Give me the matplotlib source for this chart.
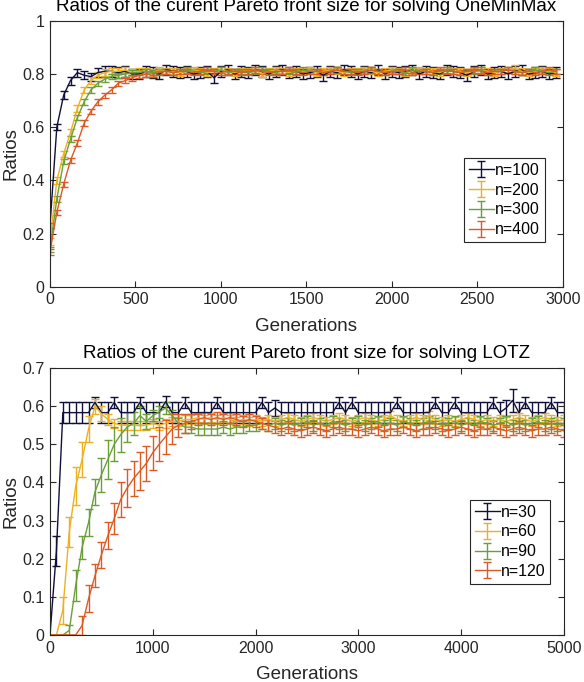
import numpy as np
import matplotlib
matplotlib.use("Agg")
import matplotlib.pyplot as plt

plt.rcParams['font.family'] = ['Liberation Sans', 'DejaVu Sans']
plt.rcParams['font.size'] = 11.5

colors = ['#10103a', '#edb120', '#6a9f3a', '#dc5a24']

# ---- OneMinMax (top) ----
gens_top = np.arange(0, 3000, 40)
labels_top = ['n=100', 'n=200', 'n=300', 'n=400']

omm_100 = [0.23, 0.60, 0.72, 0.775, 0.805, 0.795, 0.79, 0.805, 0.81, 0.81,
           0.805, 0.81, 0.80, 0.80, 0.81, 0.805, 0.80, 0.815, 0.81, 0.805,
           0.81, 0.80, 0.805, 0.81, 0.785, 0.81, 0.815, 0.80, 0.81, 0.805,
           0.815, 0.81, 0.80, 0.81, 0.815, 0.805, 0.81, 0.80, 0.805, 0.81,
           0.795, 0.81, 0.805, 0.815, 0.81, 0.80, 0.81, 0.805, 0.815, 0.80,
           0.81, 0.805, 0.81, 0.815, 0.80, 0.81, 0.805, 0.80, 0.815, 0.81,
           0.805, 0.795, 0.81, 0.815, 0.80, 0.805, 0.81, 0.80, 0.81, 0.815,
           0.80, 0.805, 0.81, 0.80, 0.805]
omm_200 = [0.17, 0.40, 0.50, 0.58, 0.67, 0.74, 0.775, 0.795, 0.805, 0.81,
           0.81, 0.815, 0.805, 0.81, 0.81, 0.805, 0.815, 0.81, 0.81, 0.805,
           0.81, 0.815, 0.81, 0.805, 0.81, 0.815, 0.81, 0.805, 0.81, 0.81,
           0.815, 0.80, 0.81, 0.815, 0.81, 0.805, 0.81, 0.81, 0.815, 0.805,
           0.81, 0.815, 0.81, 0.805, 0.81, 0.81, 0.815, 0.81, 0.805, 0.81,
           0.815, 0.81, 0.805, 0.81, 0.815, 0.81, 0.81, 0.805, 0.815, 0.81,
           0.81, 0.805, 0.81, 0.815, 0.81, 0.805, 0.81, 0.815, 0.82, 0.81,
           0.805, 0.81, 0.815, 0.81, 0.805]
omm_300 = [0.14, 0.33, 0.47, 0.555, 0.635, 0.695, 0.74, 0.765, 0.78, 0.79,
           0.795, 0.80, 0.805, 0.805, 0.81, 0.805, 0.81, 0.81, 0.805, 0.81,
           0.815, 0.81, 0.805, 0.81, 0.81, 0.815, 0.805, 0.81, 0.81, 0.805,
           0.81, 0.815, 0.81, 0.805, 0.81, 0.81, 0.805, 0.815, 0.81, 0.81,
           0.805, 0.81, 0.815, 0.81, 0.805, 0.81, 0.81, 0.815, 0.81, 0.805,
           0.81, 0.81, 0.805, 0.815, 0.81, 0.81, 0.805, 0.81, 0.815, 0.81,
           0.805, 0.81, 0.81, 0.815, 0.805, 0.81, 0.81, 0.815, 0.81, 0.805,
           0.81, 0.815, 0.81, 0.805, 0.81]
omm_400 = [0.13, 0.28, 0.385, 0.475, 0.54, 0.615, 0.66, 0.695, 0.72, 0.74,
           0.765, 0.775, 0.785, 0.795, 0.80, 0.80, 0.805, 0.81, 0.805, 0.81,
           0.81, 0.805, 0.81, 0.815, 0.81, 0.805, 0.81, 0.81, 0.805, 0.81,
           0.815, 0.81, 0.805, 0.81, 0.81, 0.815, 0.81, 0.805, 0.81, 0.81,
           0.805, 0.81, 0.815, 0.81, 0.81, 0.805, 0.81, 0.815, 0.81, 0.805,
           0.81, 0.81, 0.815, 0.805, 0.81, 0.81, 0.805, 0.815, 0.81, 0.81,
           0.805, 0.81, 0.815, 0.81, 0.805, 0.81, 0.81, 0.815, 0.81, 0.805,
           0.81, 0.805, 0.81, 0.815, 0.81]

omm_100_err = [0.01, 0.01, 0.015, 0.015, 0.015, 0.015, 0.015, 0.018, 0.02, 0.02,
               0.02, 0.02, 0.02, 0.02, 0.02, 0.02, 0.02, 0.02, 0.02, 0.02,
               0.02, 0.02, 0.02, 0.02, 0.02, 0.02, 0.02, 0.02, 0.02, 0.02,
               0.02, 0.02, 0.02, 0.02, 0.02, 0.02, 0.02, 0.02, 0.02, 0.02,
               0.02, 0.02, 0.02, 0.02, 0.02, 0.02, 0.02, 0.02, 0.02, 0.02,
               0.02, 0.02, 0.02, 0.02, 0.02, 0.02, 0.02, 0.02, 0.02, 0.02,
               0.02, 0.02, 0.02, 0.02, 0.02, 0.02, 0.02, 0.02, 0.02, 0.02,
               0.02, 0.02, 0.02, 0.02, 0.02]
omm_200_err = [0.012, 0.012, 0.012, 0.012, 0.012, 0.012, 0.012, 0.012, 0.012, 0.012,
               0.012, 0.012, 0.012, 0.012, 0.012, 0.012, 0.012, 0.012, 0.012, 0.012,
               0.012, 0.012, 0.012, 0.012, 0.012, 0.012, 0.012, 0.012, 0.012, 0.012,
               0.012, 0.012, 0.012, 0.012, 0.012, 0.012, 0.012, 0.012, 0.012, 0.012,
               0.012, 0.012, 0.012, 0.012, 0.012, 0.012, 0.012, 0.012, 0.012, 0.012,
               0.012, 0.012, 0.012, 0.012, 0.012, 0.012, 0.012, 0.012, 0.012, 0.012,
               0.012, 0.012, 0.012, 0.012, 0.012, 0.012, 0.012, 0.012, 0.012, 0.012,
               0.012, 0.012, 0.012, 0.012, 0.012]
omm_300_err = [0.01, 0.01, 0.01, 0.01, 0.01, 0.01, 0.01, 0.01, 0.01, 0.01,
               0.01, 0.01, 0.01, 0.01, 0.01, 0.01, 0.01, 0.01, 0.01, 0.01,
               0.01, 0.01, 0.01, 0.01, 0.01, 0.01, 0.01, 0.01, 0.01, 0.01,
               0.01, 0.01, 0.01, 0.01, 0.01, 0.01, 0.01, 0.01, 0.01, 0.01,
               0.01, 0.01, 0.01, 0.01, 0.01, 0.01, 0.01, 0.01, 0.01, 0.01,
               0.01, 0.01, 0.01, 0.01, 0.01, 0.01, 0.01, 0.01, 0.01, 0.01,
               0.01, 0.01, 0.01, 0.01, 0.01, 0.01, 0.01, 0.01, 0.01, 0.01,
               0.01, 0.01, 0.01, 0.01, 0.01]
omm_400_err = omm_300_err

# ---- LOTZ (bottom) ----
gens_bot = np.arange(0, 5001, 62.5)
labels_bot = ['n=30', 'n=60', 'n=90', 'n=120']

lotz_30 = [0.0, 0.22, 0.583, 0.583, 0.583, 0.583, 0.583, 0.61, 0.583, 0.583,
           0.61, 0.583, 0.583, 0.583, 0.61, 0.583, 0.583, 0.583, 0.612, 0.583,
           0.583, 0.61, 0.583, 0.583, 0.583, 0.583, 0.61, 0.583, 0.583, 0.583,
           0.583, 0.583, 0.583, 0.61, 0.583, 0.595, 0.583, 0.583, 0.583, 0.583,
           0.583, 0.583, 0.583, 0.583, 0.583, 0.61, 0.583, 0.61, 0.583, 0.583,
           0.583, 0.583, 0.583, 0.583, 0.61, 0.583, 0.583, 0.583, 0.583, 0.583,
           0.61, 0.583, 0.583, 0.61, 0.583, 0.583, 0.583, 0.583, 0.583, 0.61,
           0.583, 0.595, 0.615, 0.583, 0.61, 0.583, 0.583, 0.583, 0.61, 0.583,
           0.583]
lotz_60 = [0.0, 0.0, 0.065, 0.27, 0.39, 0.46, 0.54, 0.60, 0.58, 0.565,
           0.555, 0.55, 0.55, 0.55, 0.55, 0.55, 0.555, 0.55, 0.555, 0.56,
           0.56, 0.565, 0.565, 0.57, 0.565, 0.57, 0.565, 0.57, 0.565, 0.56,
           0.565, 0.56, 0.565, 0.56, 0.565, 0.56, 0.565, 0.57, 0.565, 0.56,
           0.565, 0.57, 0.565, 0.56, 0.565, 0.57, 0.565, 0.56, 0.565, 0.57,
           0.565, 0.56, 0.565, 0.575, 0.565, 0.56, 0.565, 0.57, 0.565, 0.575,
           0.565, 0.56, 0.565, 0.56, 0.565, 0.57, 0.565, 0.56, 0.565, 0.56,
           0.565, 0.56, 0.565, 0.57, 0.565, 0.56, 0.565, 0.57, 0.565, 0.56,
           0.565]
lotz_90 = [0.0, 0.0, 0.0, 0.012, 0.13, 0.23, 0.295, 0.375, 0.42, 0.46,
           0.50, 0.525, 0.545, 0.555, 0.575, 0.56, 0.575, 0.585, 0.595, 0.575,
           0.555, 0.545, 0.545, 0.54, 0.54, 0.54, 0.54, 0.545, 0.54, 0.545,
           0.545, 0.55, 0.55, 0.555, 0.55, 0.555, 0.55, 0.555, 0.55, 0.555,
           0.56, 0.55, 0.555, 0.55, 0.56, 0.555, 0.55, 0.555, 0.56, 0.55,
           0.555, 0.56, 0.55, 0.555, 0.55, 0.56, 0.555, 0.55, 0.555, 0.56,
           0.555, 0.55, 0.555, 0.56, 0.55, 0.555, 0.55, 0.56, 0.555, 0.55,
           0.555, 0.56, 0.55, 0.555, 0.55, 0.555, 0.56, 0.55, 0.555, 0.55,
           0.555]
lotz_120 = [0.0, 0.0, 0.0, 0.0, 0.0, 0.025, 0.095, 0.155, 0.21, 0.26,
            0.305, 0.355, 0.385, 0.41, 0.43, 0.45, 0.478, 0.50, 0.52, 0.54,
            0.55, 0.555, 0.56, 0.565, 0.57, 0.565, 0.57, 0.565, 0.57, 0.565,
            0.56, 0.565, 0.56, 0.555, 0.55, 0.545, 0.54, 0.545, 0.54, 0.535,
            0.54, 0.545, 0.54, 0.535, 0.54, 0.545, 0.54, 0.54, 0.535, 0.54,
            0.545, 0.54, 0.535, 0.54, 0.54, 0.545, 0.54, 0.535, 0.54, 0.54,
            0.545, 0.54, 0.535, 0.54, 0.545, 0.54, 0.535, 0.54, 0.54, 0.545,
            0.54, 0.535, 0.54, 0.545, 0.54, 0.535, 0.54, 0.54, 0.545, 0.54,
            0.535]

lotz_30_err = [0.0, 0.04, 0.028, 0.028, 0.028, 0.028, 0.028, 0.015, 0.028, 0.028,
               0.015, 0.028, 0.028, 0.028, 0.015, 0.028, 0.028, 0.028, 0.015, 0.028,
               0.028, 0.015, 0.028, 0.028, 0.028, 0.028, 0.015, 0.028, 0.028, 0.028,
               0.028, 0.028, 0.028, 0.015, 0.028, 0.02, 0.028, 0.028, 0.028, 0.028,
               0.028, 0.028, 0.028, 0.028, 0.028, 0.015, 0.028, 0.015, 0.028, 0.028,
               0.028, 0.028, 0.028, 0.028, 0.015, 0.028, 0.028, 0.028, 0.028, 0.028,
               0.015, 0.028, 0.028, 0.015, 0.028, 0.028, 0.028, 0.028, 0.028, 0.015,
               0.028, 0.02, 0.03, 0.028, 0.015, 0.028, 0.028, 0.028, 0.015, 0.028,
               0.028]
lotz_60_err = [0.0, 0.0, 0.035, 0.04, 0.05, 0.045, 0.035, 0.02, 0.02, 0.015,
               0.012, 0.012, 0.012, 0.012, 0.012, 0.012, 0.012, 0.012, 0.012, 0.012,
               0.012, 0.012, 0.012, 0.012, 0.012, 0.012, 0.012, 0.012, 0.012, 0.012,
               0.012, 0.012, 0.012, 0.012, 0.012, 0.012, 0.012, 0.012, 0.012, 0.012,
               0.012, 0.012, 0.012, 0.012, 0.012, 0.012, 0.012, 0.012, 0.012, 0.012,
               0.012, 0.012, 0.012, 0.012, 0.012, 0.012, 0.012, 0.012, 0.012, 0.012,
               0.012, 0.012, 0.012, 0.012, 0.012, 0.012, 0.012, 0.012, 0.012, 0.012,
               0.012, 0.012, 0.012, 0.012, 0.012, 0.012, 0.012, 0.012, 0.012, 0.012,
               0.012]
lotz_90_err = [0.0, 0.0, 0.0, 0.015, 0.04, 0.03, 0.035, 0.035, 0.045, 0.05,
               0.045, 0.045, 0.04, 0.03, 0.025, 0.02, 0.015, 0.015, 0.015, 0.015,
               0.015, 0.015, 0.015, 0.015, 0.015, 0.015, 0.015, 0.015, 0.015, 0.015,
               0.015, 0.015, 0.015, 0.015, 0.015, 0.015, 0.015, 0.015, 0.015, 0.015,
               0.015, 0.015, 0.015, 0.015, 0.015, 0.015, 0.015, 0.015, 0.015, 0.015,
               0.015, 0.015, 0.015, 0.015, 0.015, 0.015, 0.015, 0.015, 0.015, 0.015,
               0.015, 0.015, 0.015, 0.015, 0.015, 0.015, 0.015, 0.015, 0.015, 0.015,
               0.015, 0.015, 0.015, 0.015, 0.015, 0.015, 0.015, 0.015, 0.015, 0.015,
               0.015]
lotz_120_err = [0.0, 0.0, 0.0, 0.0, 0.0, 0.025, 0.035, 0.03, 0.035, 0.035,
                0.04, 0.045, 0.05, 0.045, 0.05, 0.045, 0.045, 0.045, 0.045, 0.04,
                0.03, 0.025, 0.02, 0.015, 0.015, 0.015, 0.015, 0.015, 0.015, 0.015,
                0.015, 0.015, 0.015, 0.015, 0.015, 0.015, 0.015, 0.015, 0.015, 0.015,
                0.015, 0.015, 0.015, 0.015, 0.015, 0.015, 0.015, 0.015, 0.015, 0.015,
                0.015, 0.015, 0.015, 0.015, 0.015, 0.015, 0.015, 0.015, 0.015, 0.015,
                0.015, 0.015, 0.015, 0.015, 0.015, 0.015, 0.015, 0.015, 0.015, 0.015,
                0.015, 0.015, 0.015, 0.015, 0.015, 0.015, 0.015, 0.015, 0.015, 0.015,
                0.015]

axcol = '#262626'


def panel(ax, x, series, errs, labels, title, xmax, xstep, ymax, ystep, leg_anchor):
    for y, e, lab, c in zip(series, errs, labels, colors):
        ax.errorbar(x, y, yerr=e, color=c, lw=1.0, elinewidth=1.0,
                    capsize=3, capthick=1.0, label=lab)
    ax.set_xlim(0, xmax)
    ax.set_ylim(0, ymax)
    ax.set_xticks(np.arange(0, xmax + 1, xstep))
    yt = np.round(np.arange(0, ymax + 1e-9, ystep), 2)
    ax.set_yticks(yt)
    ax.set_yticklabels([f'{v:g}' for v in yt])
    ax.tick_params(direction='in', top=True, right=True, length=4,
                   colors=axcol, labelsize=11.5, pad=4)
    for s in ax.spines.values():
        s.set_color(axcol)
        s.set_linewidth(0.8)
    ax.set_title(title, fontsize=13.5, pad=7, color='black')
    ax.set_xlabel('Generations', fontsize=13.5, color=axcol, labelpad=7.5)
    ax.set_ylabel('Ratios', fontsize=13.5, color=axcol, labelpad=1.5)
    leg = ax.legend(loc='upper left', bbox_to_anchor=leg_anchor, fancybox=False,
                    edgecolor=axcol, framealpha=1, fontsize=11.5, handlelength=1.6,
                    handletextpad=0.05, labelspacing=0.3, borderpad=0.3,
                    borderaxespad=0)
    leg.get_frame().set_linewidth(0.8)


fig = plt.figure(figsize=(5.84, 6.82), dpi=100)
ax1 = fig.add_axes([0.0856, 0.5796, 0.878, 0.390])
ax2 = fig.add_axes([0.0856, 0.0689, 0.880, 0.3915])

panel(ax1, gens_top, [omm_100, omm_200, omm_300, omm_400],
      [omm_100_err, omm_200_err, omm_300_err, omm_400_err], labels_top,
      'Ratios of the curent Pareto front size for solving OneMinMax',
      3000, 500, 1.0, 0.2, (0.807, 0.484))
panel(ax2, gens_bot, [lotz_30, lotz_60, lotz_90, lotz_120],
      [lotz_30_err, lotz_60_err, lotz_90_err, lotz_120_err], labels_bot,
      'Ratios of the curent Pareto front size for solving LOTZ',
      5000, 1000, 0.7, 0.1, (0.817, 0.506))

fig.savefig('out.png', dpi=100)
